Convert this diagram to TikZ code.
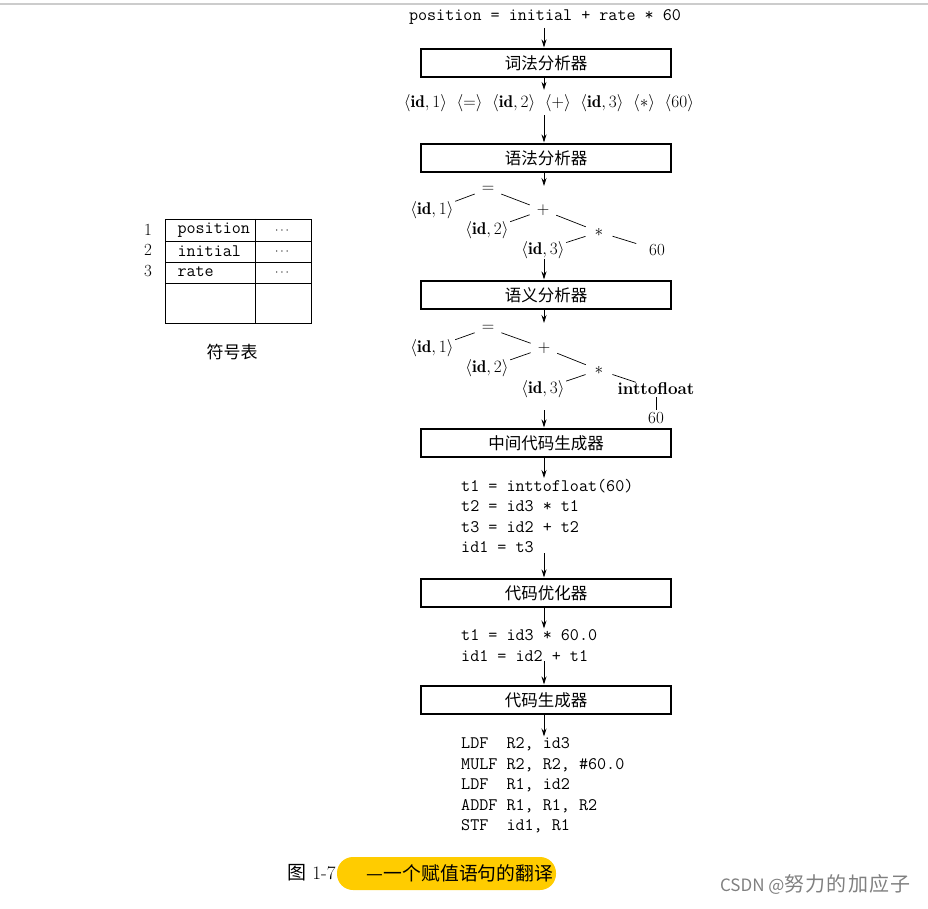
\documentclass[tikz,border=0pt]{standalone}
\usepackage{amsmath}
\usepackage{fontspec}
\usetikzlibrary{arrows.meta}
\newfontfamily\cjk{Noto Sans CJK SC}
\newfontfamily\cjkwide[LetterSpace=6]{Noto Sans CJK SC}
\definecolor{hilite}{RGB}{255,204,0}
\newcommand\code{\ttfamily\fontsize{17.6}{20.5}\selectfont}
\newcommand\tok[1]{\langle #1\rangle}
\newcommand\tokgap{\hspace{9.6pt}}

\tikzset{
  stage/.style={draw, line width=1.1pt, minimum width=250pt, minimum height=28pt,
    inner sep=0pt, font=\cjk\fontsize{16.5}{16.5}\selectfont},
  arr/.style={-{Stealth[length=8pt,width=5pt]}, line width=0.8pt, shorten >=1pt},
  op/.style={circle, inner sep=0pt, minimum size=28pt},
  leaf/.style={inner sep=0.5pt, minimum width=46pt},
  edge/.style={line width=0.7pt},
  codeblk/.style={anchor=north west, align=left, inner sep=0pt, font=\code},
}

\begin{document}
\begin{tikzpicture}[x=1pt,y=-1pt,font=\fontsize{17}{20}\selectfont]
  \useasboundingbox (0,0) rectangle (928,909);
  \draw[gray!40, line width=1.5pt] (0,4) -- (928,4);
  \coordinate (spine) at (544,0);

  % symbol table
  \draw[line width=0.9pt] (165,219) rectangle (311,323);
  \draw[line width=0.9pt] (165,241) -- (311,241);
  \draw[line width=0.9pt] (165,262) -- (311,262);
  \draw[line width=0.9pt] (165,283) -- (311,283);
  \draw[line width=0.9pt] (255,219) -- (255,323);
  \node (rowA) at (148,230) {1};
  \node (rowB) at (148,250) {2};
  \node (rowC) at (148,271) {3};
  \node[anchor=west, font=\code] (symA) at (174,230) {position};
  \node[anchor=west, font=\code] (symB) at (174,251) {initial};
  \node[anchor=west, font=\code] (symC) at (174,272) {rate};
  \node[font=\fontsize{12}{12}\selectfont] (dotA) at (283,231) {$\cdots$};
  \node[font=\fontsize{12}{12}\selectfont] (dotB) at (283,252) {$\cdots$};
  \node[font=\fontsize{12}{12}\selectfont] (dotC) at (283,273) {$\cdots$};
  \node[font=\cjk\fontsize{17}{17}\selectfont] (symtab) at (232,352) {符号表};

  % pipeline
  \node[font=\code] (src) at (545,17) {position = initial + rate * 60};
  \node[stage] (lex) at (546,63) {词法分析器};
  \node (toks) at (549,103) {$\tok{\mathbf{id},1}\tokgap\tok{=}\tokgap\tok{\mathbf{id},2}\tokgap
    \tok{+}\tokgap\tok{\mathbf{id},3}\tokgap\tok{*}\tokgap\tok{60}$};
  \node[stage] (syn) at (546,158) {语法分析器};
  \coordinate (treeA) at (544,187);

  \node[op] (eqA) at (488,189) {$=$};
  \node[leaf] (id1A) at (432,210) {$\tok{\mathbf{id},1}$};
  \node[op] (plusA) at (543,210) {$+$};
  \node[leaf] (id2A) at (487,230) {$\tok{\mathbf{id},2}$};
  \node[op] (mulA) at (599,232) {$*$};
  \node[leaf] (id3A) at (543,250) {$\tok{\mathbf{id},3}$};
  \node[leaf] (numA) at (657,250) {60};
  \draw[edge] (eqA) -- (id1A);
  \draw[edge] (eqA) -- (plusA);
  \draw[edge] (plusA) -- (id2A);
  \draw[edge] (plusA) -- (mulA);
  \draw[edge] (mulA) -- (id3A);
  \draw[edge] (mulA) -- (numA);

  \node[stage] (sem) at (546,295) {语义分析器};
  \coordinate (treeB) at (544,324);

  \node[op] (eqB) at (488,328) {$=$};
  \node[leaf] (id1B) at (432,348) {$\tok{\mathbf{id},1}$};
  \node[op] (plusB) at (544,348) {$+$};
  \node[leaf] (id2B) at (487,368) {$\tok{\mathbf{id},2}$};
  \node[op] (mulB) at (599,370) {$*$};
  \node[leaf] (id3B) at (543,389) {$\tok{\mathbf{id},3}$};
  \node[inner sep=0.5pt] (castB) at (656,389) {\textbf{inttofloat}};
  \node[inner sep=0.5pt] (numB) at (656,418) {60};
  \draw[edge] (eqB) -- (id1B);
  \draw[edge] (eqB) -- (plusB);
  \draw[edge] (plusB) -- (id2B);
  \draw[edge] (plusB) -- (mulB);
  \draw[edge] (mulB) -- (id3B);
  \draw[edge] (mulB) -- (castB);
  \draw[edge, shorten <=1.5pt, shorten >=1.5pt] (castB) -- (numB);
  \coordinate (treeBend) at (544,410);

  \node[stage] (gen) at (546,443) {中间代码生成器};
  \node[codeblk] (irc) at (461,479) {t1 = inttofloat(60)\\t2 = id3 * t1\\t3 = id2 + t2\\id1 = t3};
  \node[stage] (opt) at (546,593) {代码优化器};
  \node[codeblk] (optc) at (461,629.5) {t1 = id3 * 60.0\\id1 = id2 + t1};
  \node[stage] (cg) at (546,700) {代码生成器};
  \node[codeblk] (asm) at (461,737.5) {LDF\ \ R2, id3\\MULF R2, R2, \#60.0\\LDF\ \ R1, id2\\ADDF R1, R1, R2\\STF\ \ id1, R1};

  \draw[arr] (src.south -| spine) -- (lex.north -| spine);
  \draw[arr] (lex.south -| spine) -- (toks.north -| spine);
  \draw[arr] (toks.south -| spine) -- (syn.north -| spine);
  \draw[arr] (syn.south -| spine) -- (treeA);
  \draw[arr] (id3A.south -| spine) -- (sem.north -| spine);
  \draw[arr] (sem.south -| spine) -- (treeB);
  \draw[arr] (treeBend) -- (gen.north -| spine);
  \draw[arr] (gen.south -| spine) -- (irc.north -| spine);
  \draw[arr] (irc.south -| spine) -- (opt.north -| spine);
  \draw[arr] (opt.south -| spine) -- (optc.north -| spine);
  \draw[arr] (optc.south -| spine) -- (cg.north -| spine);
  \draw[arr] (cg.south -| spine) -- (asm.north -| spine);

  % caption
  \node[fill=hilite, rounded corners=16pt, minimum width=219pt, minimum height=33pt,
    inner sep=0pt, text width=213pt, align=right,
    font=\cjk\fontsize{18.8}{18.8}\selectfont] (cap) at (446.5,873.5) {—一个赋值语句的翻译};
  \node[anchor=east, font=\fontsize{19}{19}\selectfont] (figno) at (339,873) {{\cjk 图} 1-7};
  \node[anchor=east, font=\cjk\fontsize{17}{17}\selectfont, text=gray] (mark) at (914,884)
    {CSDN @{\cjkwide\fontsize{20}{20}\selectfont 努力的加应子}};
\end{tikzpicture}
\end{document}
